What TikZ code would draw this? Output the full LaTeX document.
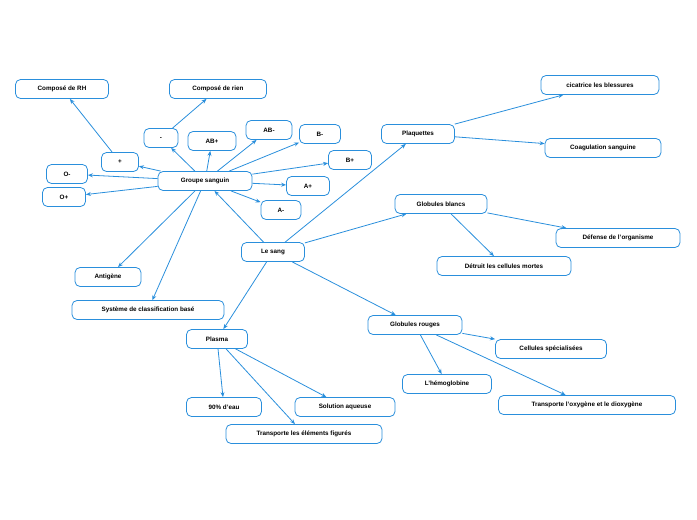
\documentclass[tikz,border=0pt]{standalone}
\usepackage{fontspec}
\setmainfont{Liberation Sans}
\usetikzlibrary{arrows.meta}
\definecolor{bl}{HTML}{2A8FDC}
\begin{document}
\begin{tikzpicture}[x=1pt,y=-1pt,
 box/.style={draw=bl,line width=0.8pt,rounded corners=5pt,fill=white,minimum height=19pt,inner sep=1pt,font=\fontsize{6.3}{7}\selectfont\bfseries},
 ar/.style={draw=bl,line width=0.8pt,-{Stealth[length=5pt,width=4pt]}}]
\useasboundingbox (0,0) rectangle (697,520);
\node[box,minimum width=93pt] (rh) at (62,89) {Composé de RH};
\node[box,minimum width=97pt] (rien) at (218,89) {Composé de rien};
\node[box,minimum width=34pt] (m) at (161,138) {-};
\node[box,minimum width=48pt] (abp) at (212,141) {AB+};
\node[box,minimum width=46pt] (abm) at (269,130) {AB-};
\node[box,minimum width=41pt] (bm) at (320,134) {B-};
\node[box,minimum width=43pt] (bp) at (350,160) {B+};
\node[box,minimum width=37pt] (p) at (120,162) {+};
\node[box,minimum width=41pt] (om) at (67,174) {O-};
\node[box,minimum width=43pt] (op) at (64,197) {O+};
\node[box,minimum width=94pt] (gs) at (205,181) {Groupe sanguin};
\node[box,minimum width=43pt] (ap) at (308,186) {A+};
\node[box,minimum width=40pt] (am) at (281,210) {A-};
\node[box,minimum width=63pt] (ls) at (273,252) {Le sang};
\node[box,minimum width=66pt] (ag) at (108,277) {Antigène};
\node[box,minimum width=152pt] (sc) at (148,310) {Système de classification basé};
\node[box,minimum width=73pt] (pq) at (418,134) {Plaquettes};
\node[box,minimum width=118pt] (cb) at (600,85) {cicatrice les blessures};
\node[box,minimum width=116pt] (co) at (603,148) {Coagulation sanguine};
\node[box,minimum width=92pt] (gb) at (441,204) {Globules blancs};
\node[box,minimum width=124pt] (de) at (618,238) {Défense de l'organisme};
\node[box,minimum width=134pt] (dc) at (504,266) {Détruit les cellules mortes};
\node[box,minimum width=94pt] (gr) at (415,325) {Globules rouges};
\node[box,minimum width=111pt] (cs) at (551,349) {Cellules spécialisées};
\node[box,minimum width=89pt] (he) at (447,384) {L'hémoglobine};
\node[box,minimum width=177pt] (tox) at (587,405) {Transporte l'oxygène et le dioxygène};
\node[box,minimum width=61pt] (pl) at (217,339) {Plasma};
\node[box,minimum width=75pt] (eau) at (224,407) {90\% d'eau};
\node[box,minimum width=100pt] (sa) at (345,407) {Solution aqueuse};
\node[box,minimum width=156pt] (te) at (304,434) {Transporte les éléments figurés};
\foreach \a/\b in {ls/gs,ls/pq,ls/gb,ls/gr,ls/pl,gs/m,gs/abp,gs/abm,gs/bm,gs/bp,gs/p,gs/om,gs/op,gs/ap,gs/am,gs/ag,gs/sc,p/rh,m/rien,pq/cb,pq/co,gb/de,gb/dc,gr/cs,gr/he,gr/tox,pl/eau,pl/sa,pl/te}
  \draw[ar] (\a) -- (\b);
\end{tikzpicture}
\end{document}
